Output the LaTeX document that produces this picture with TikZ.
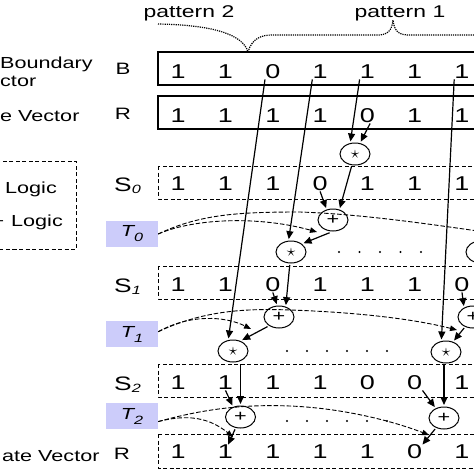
\documentclass[tikz,border=0pt]{standalone}
\usepackage{fontspec}
\newfontfamily\lblfont[FakeStretch=1.35]{Liberation Sans}
\usetikzlibrary{arrows.meta,shapes.geometric,matrix,positioning}
\definecolor{tlabel}{RGB}{204,204,250}
\newcommand{\lowidx}[2][-2pt]{\raisebox{#1}{\fontsize{12}{12}\selectfont\itshape #2}}

\begin{document}
\begin{tikzpicture}[x=1pt, y=-1pt, %
        vec/.style={matrix of nodes, ampersand replacement=\&, inner sep=0pt,
          anchor=west, column sep=32.1pt,
          nodes={inner sep=0pt, minimum width=15.2pt, minimum height=14.5pt,
            font=\lblfont\fontsize{20}{20}\selectfont}},
        solidrow/.style={draw, line width=1.3pt},
        dashrow/.style={draw, line width=0.9pt, dash pattern=on 4pt off 2.5pt},
        op/.style={draw, ellipse, line width=1pt, minimum width=30pt,
          minimum height=22pt, inner sep=0pt, outer sep=2pt,
          font=\fontsize{16}{16}\selectfont},
        arr/.style={-{Triangle[length=8pt,width=7pt]}, line width=1.2pt},
        lnk/.style={-{Triangle[length=7pt,width=5.5pt]}, line width=0.9pt,
          dash pattern=on 4.5pt off 2pt},
        lbl/.style={font=\lblfont\fontsize{16}{16}\selectfont, inner sep=0pt},
        tlbl/.style={fill=tlabel, minimum width=52pt, minimum height=26pt,
          inner sep=0pt, font=\lblfont\itshape\fontsize{16}{16}\selectfont},
        brace/.style={densely dotted, line width=1.2pt}
        ]
        \useasboundingbox (0,0) rectangle (474,474);
        \clip (0,0) rectangle (474,474);
        % patterns
        \node[lbl, font=\lblfont\fontsize{17}{17}\selectfont, anchor=base] (p2) at (189,17) {pattern 2};
        \node[lbl, font=\lblfont\fontsize{17}{17}\selectfont, anchor=base] (p1) at (400,17) {pattern 1};
        \draw[brace] (158,24) .. controls (215,25) and (243,35) .. (248,52);
        \draw[brace] (248,52) .. controls (252,38) and (262,35) .. (272,35) -- (378,35)
          .. controls (388,35) and (392,30) .. (393,20)
          .. controls (394,30) and (398,35) .. (408,35) -- (480,35);
        % left labels
        \node[lbl, anchor=base west] (bnd) at (0,68) {Boundary};
        \node[lbl, anchor=base west] (bnd2) at (0,86) {ctor};
        \node[lbl, anchor=base west] (rng) at (0,121) {e Vector};
        \node[lbl, anchor=base west] (upd) at (2,461) {ate Vector};
        \draw[dashrow] (-10,161) rectangle (76,249);
        \node[lbl, anchor=base west] (lg1) at (5,193) {Logic};
        \node[lbl, anchor=base west] (lg2) at (11,226) {\llap{+\hspace{7pt}}Logic};
        % vectors
        \draw[solidrow] (158,52) rectangle (490,85);
        \draw[solidrow] (158,96) rectangle (490,129);
        \draw[dashrow] (158,166) rectangle (490,199);
        \draw[dashrow] (158,266) rectangle (490,299);
        \draw[dashrow] (158,364) rectangle (490,397);
        \draw[dashrow] (158,434) rectangle (490,468);
        \matrix[vec] (B) at (170.4,72) {1 \& 1 \& 0 \& 1 \& 1 \& 1 \& 1\\};
        \matrix[vec] (R) at (170.4,116) {1 \& 1 \& 1 \& 1 \& 0 \& 1 \& 1\\};
        \matrix[vec] (S0) at (170.4,184) {1 \& 1 \& 1 \& 0 \& 1 \& 1 \& 1\\};
        \matrix[vec] (S1) at (170.4,285) {1 \& 1 \& 0 \& 1 \& 1 \& 1 \& 0\\};
        \matrix[vec] (S2) at (170.4,383) {1 \& 1 \& 1 \& 1 \& 0 \& 0 \& 1\\};
        \matrix[vec] (Rb) at (170.4,452) {1 \& 1 \& 1 \& 1 \& 1 \& 0 \& 1\\};
        \node[lbl, font=\lblfont\fontsize{16.5}{16.5}\selectfont] (Bl) at (123,68.5) {B};
        \node[lbl, font=\lblfont\fontsize{16.5}{16.5}\selectfont] (Rl) at (123,114) {R};
        \node[lbl, font=\lblfont\fontsize{16.5}{16.5}\selectfont] (Rbl) at (122,454) {R};
        \node[lbl, font=\lblfont\fontsize{19.5}{19.5}\selectfont, anchor=base west] (S0l) at (114,191) {S\lowidx{0}};
        \node[lbl, font=\lblfont\fontsize{19.5}{19.5}\selectfont, anchor=base west] (S1l) at (114,292) {S\lowidx{1}};
        \node[lbl, font=\lblfont\fontsize{19.5}{19.5}\selectfont, anchor=base west] (S2l) at (114,390) {S\lowidx{2}};
        \node[tlbl] (t0) at (132,234) {T\lowidx[-5pt]{0}};
        \node[tlbl] (t1) at (132,334) {T\lowidx[-5pt]{1}};
        \node[tlbl] (t2) at (132,416) {T\lowidx[-5pt]{2}};
        % logic cells
        \node[op] (m0) at (355,154) {$\star$};
        \node[op] (a0) at (333,220) {\lblfont +};
        \node[op] (m1) at (291,252) {$\star$};
        \node[op] (m1r) at (481,252) {$\star$};
        \node[op] (a1) at (279,317) {\lblfont +};
        \node[op] (a1r) at (473,317) {\lblfont +};
        \node[op] (m2) at (233,351) {$\star$};
        \node[op] (m2r) at (446,352) {$\star$};
        \node[op] (a2) at (240.5,417) {\lblfont +};
        \node[op] (a2r) at (444,418) {\lblfont +};
        \foreach \x in {339,359.5,...,421} \fill (\x,252) circle (1.2pt);
        \foreach \x in {287,307,...,387} {\fill (\x,351) circle (1.2pt); \fill (\x,421) circle (1.2pt);}
        % data flow
        \draw[arr] (B-1-5.south west) -- (m0.110);
        \draw[arr] (R-1-5.-70) -- (m0.65);
        \draw[arr] (m0) -- (a0.60);
        \draw[arr] (S0-1-4.south) -- (a0.120);
        \draw[arr] (a0.-105) -- (m1.35);
        \draw[arr] (B-1-4.south west) -- (m1.100);
        \draw[arr] (m1) -- (a1.60);
        \draw[arr] (S1-1-3.south) -- (a1.100);
        \draw[arr] (a1.-140) -- (m2.50);
        \draw[arr] (B-1-3.south west) -- (m2.110);
        \draw[arr] (a2.north |- m2.south) -- (a2.north);
        \draw[arr] (S2-1-2.south) -- (a2.125);
        \draw[arr] (a2) -- (Rb-1-2.70);
        \draw[arr] (B-1-7.south west) -- (m2r.110);
        \draw[arr] (a1r) -- (m2r.55);
        \draw[arr] (S1-1-7.south) -- (a1r.130);
        \draw[arr] (a2r.north |- m2r.south) -- (a2r.north);
        \draw[arr] (S2-1-6.south east) -- (a2r.130);
        \draw[arr] (a2r) -- (Rb-1-6.north east);
        % carries
        \coordinate (t0in) at (317,232);
        \coordinate (t0far) at (505,235);
        \coordinate (t1in) at (251,329);
        \coordinate (t1r) at (457,330);
        \coordinate (t2in) at (233,437);
        \coordinate (t2r) at (429,435);
        \draw[lnk] (t0.east) .. controls (195,218) and (260,216) .. (t0in);
        \draw[lnk] (t0.east) .. controls (200,214) and (240,212) .. (300,212)
          .. controls (360,214) and (430,224) .. (t0far);
        \draw[lnk] (t1.5) .. controls (190,314) and (225,316) .. (t1in);
        \draw[lnk] (t1.5) .. controls (200,312) and (240,308) .. (290,310)
          .. controls (350,312) and (410,318) .. (t1r);
        \draw[lnk] (t2.-12) .. controls (180,416) and (205,414) .. (t2in);
        \draw[lnk] (t2.-12) .. controls (200,410) and (240,404) .. (290,406)
          .. controls (340,408) and (390,420) .. (t2r);
      \end{tikzpicture}
\end{document}
